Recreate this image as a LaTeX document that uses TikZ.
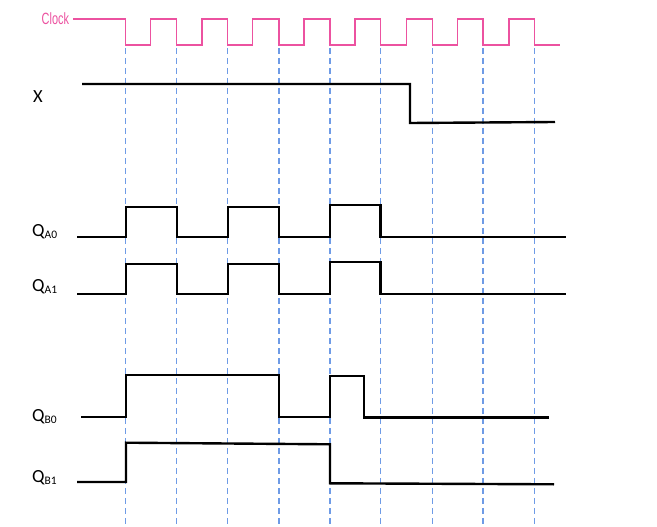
\documentclass[tikz,border=0pt]{standalone}
\usepackage{fontspec}
\setmainfont{Carlito}
\newfontfamily\clkfont[FakeStretch=0.67]{Liberation Sans}
\definecolor{clkpink}{RGB}{236,82,160}
\definecolor{gridblue}{RGB}{110,155,230}
\begin{document}
\begin{tikzpicture}[x=1pt,y=-1pt,
  sig/.style={line width=2.4pt,line join=miter,black},
  clk/.style={line width=1.4pt,clkpink},
  guide/.style={line width=1.1pt,gridblue,dash pattern=on 6pt off 4pt},
  lbl/.style={inner sep=0pt,anchor=base west,font=\fontsize{18.5}{20}\selectfont},
]
\useasboundingbox (0,0) rectangle (657,527);
% guide lines
\foreach \gx/\gn in {125.7/g1,176.5/g2,227.7/g3,279/g4,330/g5,380.6/g6,432.5/g7,483/g8,534.5/g9}{
  \coordinate (\gn t) at (\gx,48);
  \coordinate (\gn b) at (\gx,527);
  \draw[guide] (\gn t) -- (\gn b);
}
% clock
\node[inner sep=0pt,anchor=base west,text=clkpink,font=\clkfont\fontsize{16.3}{18}\selectfont] (clock) at (41.5,24.3) {Clock};
\draw[clk] (73,19) -- (125.7,19) -- (125.7,45) -- (150.7,45) -- (150.7,19) -- (176.5,19) -- (176.5,45)
  -- (202,45) -- (202,19) -- (227.7,19) -- (227.7,45) -- (252.7,45) -- (252.7,19) -- (279,19) -- (279,45)
  -- (304,45) -- (304,19) -- (330,19) -- (330,45) -- (355,45) -- (355,19) -- (380.6,19) -- (380.6,45)
  -- (406.7,45) -- (406.7,19) -- (432.5,19) -- (432.5,45) -- (457.7,45) -- (457.7,19) -- (483,19) -- (483,45)
  -- (509,45) -- (509,19) -- (534.5,19) -- (534.5,45) -- (560,45);
% X
\node[lbl] (xl) at (33,102.7) {X};
\draw[sig] (82,84) -- (410,84) -- (410,123) -- (555,122);
% QA0
\node[lbl] (qa0) at (32,236) {Q{\fontsize{11.5}{12}\selectfont\raisebox{-2.4pt}{A0}}};
\draw[sig] (77,237) -- (126,237) -- (126,207) -- (176.8,207) -- (176.8,237) -- (227.7,237) -- (227.7,207)
  -- (279.2,207) -- (279.2,237) -- (330,237) -- (330,205) -- (380.6,205) -- (380.6,237) -- (566,237);
% QA1
\node[lbl] (qa1) at (32,291) {Q{\fontsize{11.5}{12}\selectfont\raisebox{-2.4pt}{A1}}};
\draw[sig] (77,294) -- (126,294) -- (126,264) -- (176.8,264) -- (176.8,294) -- (227.7,294) -- (227.7,264)
  -- (279.2,264) -- (279.2,294) -- (330,294) -- (330,261.7) -- (380.6,261.7) -- (380.6,294) -- (566,294);
% QB0
\node[lbl] (qb0) at (32,421) {Q{\fontsize{11.5}{12}\selectfont\raisebox{-2.4pt}{B0}}};
\draw[sig] (81,416.7) -- (126,416.7) -- (126,375) -- (279.2,375) -- (279.2,416.7) -- (330,416.7) -- (330,375.7)
  -- (364,375.7) -- (364,417.3) -- (549,417.3);
% QB1
\node[lbl] (qb1) at (32,482.3) {Q{\fontsize{11.5}{12}\selectfont\raisebox{-2.4pt}{B1}}};
\draw[sig] (77,482) -- (126,482) -- (126,442.7) -- (330,444.3) -- (330,483.3) -- (554,484.3);
\end{tikzpicture}
\end{document}
